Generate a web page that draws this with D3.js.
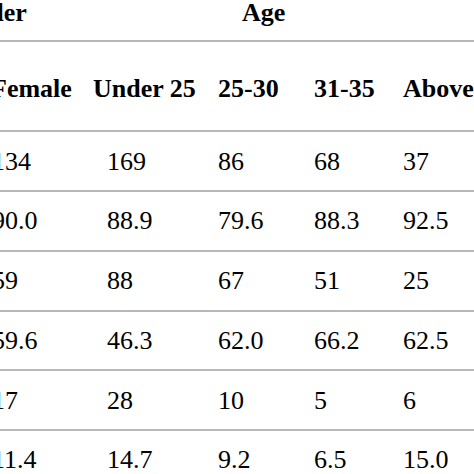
<!DOCTYPE html>
<html><head><meta charset="utf-8">
<script src="https://cdn.jsdelivr.net/npm/d3@7"></script>
<style>body{margin:0;background:#fff}</style></head>
<body><script>
const columns = ["Female", "Under 25", "25-30", "31-35", "Above 35"];
const groups = [{label: "Gender", x: -57}, {label: "Age", x: 242}];
const rows = [
  ["134", "169", "86", "68", "37"],
  ["90.0", "88.9", "79.6", "88.3", "92.5"],
  ["59", "88", "67", "51", "25"],
  ["59.6", "46.3", "62.0", "66.2", "62.5"],
  ["17", "28", "10", "5", "6"],
  ["11.4", "14.7", "9.2", "6.5", "15.0"]
];
const colX = [-9, 93, 218, 314, 403];
const dataX = [-8, 107, 218, 314, 403];
const lineY = [41, 131, 191, 251, 311, 370, 430];

const svg = d3.select("body").append("svg").attr("width", 474).attr("height", 474);
const font = "'Liberation Serif', 'Times New Roman', serif";

svg.selectAll("line").data(lineY).join("line")
  .attr("x1", 0).attr("x2", 474).attr("y1", d => d).attr("y2", d => d)
  .attr("stroke", "#a0a0a0").attr("stroke-width", 1.5);

svg.selectAll("text.g").data(groups).join("text")
  .attr("x", d => d.x).attr("y", 12).attr("dy", "0.35em")
  .attr("font-family", font).attr("font-weight", "bold").attr("font-size", 26)
  .text(d => d.label);

svg.selectAll("text.h").data(columns).join("text")
  .attr("x", (d, i) => colX[i]).attr("y", 88).attr("dy", "0.35em")
  .attr("font-family", font).attr("font-weight", "bold").attr("font-size", 26)
  .text(d => d);

const rowCenters = [161, 220, 280, 340, 400, 459];
rows.forEach((r, ri) => {
  svg.append("g").selectAll("text").data(r).join("text")
    .attr("x", (d, i) => dataX[i]).attr("y", rowCenters[ri]).attr("dy", "0.35em")
    .attr("font-family", font).attr("font-size", 26)
    .text(d => d);
});
</script></body></html>
